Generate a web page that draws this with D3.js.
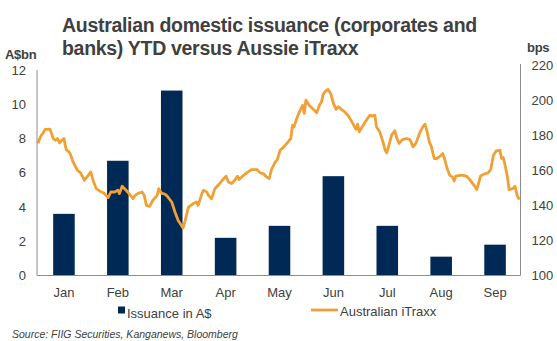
<!DOCTYPE html>
<html><head><meta charset="utf-8">
<script src="https://cdn.jsdelivr.net/npm/d3@7"></script>
<style>
html,body{margin:0;padding:0;background:#fff;}
svg{display:block;font-family:"Liberation Sans",Arial,sans-serif;}
</style></head>
<body>
<svg id="chart" width="557" height="341"></svg>
<script>
// ---- data ----
const months = ["Jan","Feb","Mar","Apr","May","Jun","Jul","Aug","Sep"];
const issuance = [3.6, 6.7, 10.8, 2.2, 2.9, 5.8, 2.9, 1.1, 1.8];
// iTraxx: time in months since 1 Jan (fractional), spread in bps
const itraxxT = [0.02,0.05,0.08,0.11,0.15,0.24,0.27,0.30,0.34,0.38,0.42,0.46,0.50,0.54,0.61,0.67,0.75,0.81,0.88,0.95,
1.00,1.04,1.10,1.16,1.24,1.32,1.37,1.44,1.50,1.53,1.58,1.64,1.70,1.78,1.82,1.89,1.95,1.99,
2.03,2.09,2.15,2.23,2.26,2.31,2.38,2.43,2.50,2.56,2.62,2.67,2.71,2.75,2.81,2.90,2.96,2.99,
3.06,3.09,3.15,3.18,3.24,3.30,3.36,3.45,3.51,3.55,3.61,3.67,3.72,3.75,3.80,3.89,3.98,
4.08,4.14,4.20,4.26,4.31,4.35,4.42,4.46,4.51,4.58,4.66,4.71,4.74,4.77,4.81,4.87,4.93,4.96,4.99,
5.05,5.13,5.19,5.24,5.28,5.31,5.36,5.40,5.45,5.50,5.55,5.59,5.65,5.71,5.78,5.86,5.92,5.95,5.98,
6.04,6.12,6.18,6.23,6.27,6.30,6.36,6.42,6.46,6.49,6.54,6.58,6.64,6.68,6.72,6.78,6.86,6.92,6.98,
7.03,7.11,7.16,7.20,7.24,7.28,7.32,7.37,7.42,7.48,7.53,7.57,7.61,7.66,7.71,7.74,7.77,7.85,7.91,7.97,
8.03,8.11,8.16,8.19,8.23,8.28,8.37,8.42,8.47,8.52,8.59,8.62,8.65,8.68,8.73,8.76,8.83,8.87,8.91,8.95];
const itraxxV = [175.3,178.1,180.0,181.0,183.3,183.4,181.0,178.1,177.1,178.1,175.6,177.1,178.1,171.8,169.9,164.7,160.0,158.5,154.3,157.1,
159.0,154.3,149.5,148.2,147.0,144.4,147.6,147.6,148.6,146.7,150.9,149.0,147.0,143.8,145.7,147.0,147.6,145.7,
140.0,139.4,142.9,145.7,149.5,147.0,146.3,144.7,141.9,136.2,131.4,129.1,127.0,131.4,139.0,141.0,141.9,140.0,
146.7,148.6,147.6,145.7,143.8,149.5,151.4,154.7,156.6,153.3,152.4,154.3,156.6,154.7,156.2,158.5,160.4,
160.4,158.5,158.1,156.2,155.3,160.4,164.6,166.1,171.4,173.3,176.2,178.1,185.7,184.7,188.6,193.3,197.1,192.4,200.0,
197.1,194.7,192.7,197.1,199.0,203.4,205.3,206.1,203.8,198.1,194.7,196.2,194.7,193.3,190.9,186.7,183.3,186.3,181.9,
185.1,189.0,191.4,190.9,191.4,184.7,181.9,176.2,171.4,169.9,175.3,180.0,182.5,178.1,175.3,177.5,178.1,177.5,173.3,
175.3,181.9,184.7,186.3,181.9,176.2,173.3,166.7,166.7,168.0,169.5,165.7,161.0,157.1,156.2,153.9,156.6,157.1,157.1,156.6,
154.7,151.4,149.0,152.0,156.6,157.7,158.5,160.4,168.6,171.0,171.4,166.7,167.3,163.8,156.2,149.0,149.5,150.9,145.7,143.3];
const leftTicks = [0,2,4,6,8,10,12];
const rightTicks = [100,120,140,160,180,200,220];
const titleLines = ["Australian domestic issuance (corporates and","banks) YTD versus Aussie iTraxx"];
const seriesNames = ["Issuance in A$","Australian iTraxx"];
const sourceText = "Source: FIIG Securities, Kanganews, Bloomberg";

// ---- layout ----
const L = 37, R = 520.5, T = 70, B = 275.5;
const textCol = "#404040", axisCol = "#8c8c8c", barCol = "#002a55", lineCol = "#f0a035";

const svg = d3.select("#chart");

const x = d3.scaleBand().domain(months).range([L, 522]).padding(0);
const xt = d3.scaleLinear().domain([0, months.length]).range([L, 522]);
const yL = d3.scaleLinear().domain([0, 12]).range([B, T]);
const yR = d3.scaleLinear().domain([100, 220]).range([B, 65]);

// title
svg.append("g").selectAll("text").data(titleLines).join("text")
  .attr("x", 62).attr("y", (d,i)=>32 + i*23)
  .attr("font-size", 19.5).attr("font-weight", "bold").attr("fill", textCol)
  .attr("letter-spacing", -0.3)
  .text(d=>d);

// axis unit labels
svg.append("text").attr("x", 5).attr("y", 59).attr("font-size", 13).attr("font-weight","bold")
  .attr("fill", textCol).attr("letter-spacing", -0.3).text("A$bn");
svg.append("text").attr("x", 527).attr("y", 52).attr("font-size", 13).attr("font-weight","bold")
  .attr("fill", textCol).attr("letter-spacing", -0.3).text("bps");

// bars
const bw = x.step() * 0.4;
svg.append("g").selectAll("rect").data(issuance).join("rect")
  .attr("x", (d,i)=>x(months[i]) + x.bandwidth()/2 - bw/2)
  .attr("width", bw)
  .attr("y", d=>yL(d))
  .attr("height", d=>yL(0)-yL(d))
  .attr("fill", barCol);

// line
const pts = itraxxT.map((t,i)=>[t, itraxxV[i]]);
svg.append("path").datum(pts)
  .attr("fill","none").attr("stroke", lineCol).attr("stroke-width", 2.8)
  .attr("stroke-linejoin","round")
  .attr("d", d3.line().x(d=>xt(d[0])).y(d=>yR(d[1])));

// left axis
const gL = svg.append("g").attr("transform", `translate(${L},0)`)
  .call(d3.axisLeft(yL).tickValues(leftTicks).tickSize(0).tickPadding(11).tickFormat(d3.format("d")));
gL.select(".domain").attr("stroke", axisCol).attr("d", `M0,${B}V${T}`);
gL.selectAll("text").attr("font-size", 13).attr("fill", textCol).attr("font-family", "Liberation Sans, Arial, sans-serif");

// right axis
const gR = svg.append("g").attr("transform", `translate(${R},0)`)
  .call(d3.axisRight(yR).tickValues(rightTicks).tickSize(0).tickPadding(11).tickFormat(d3.format("d")));
gR.select(".domain").attr("stroke", axisCol).attr("d", `M0,${B}V64`);
gR.selectAll("text").attr("font-size", 13).attr("fill", textCol).attr("font-family", "Liberation Sans, Arial, sans-serif");

// bottom axis
const gB = svg.append("g").attr("transform", `translate(0,${B})`)
  .call(d3.axisBottom(x).tickSize(0).tickPadding(12));
gB.select(".domain").attr("stroke", axisCol).attr("d", `M${L},0H${R}`);
gB.selectAll("text").attr("font-size", 13).attr("fill", textCol).attr("font-family", "Liberation Sans, Arial, sans-serif");

// legend
const lg = svg.append("g");
lg.append("rect").attr("x", 118).attr("y", 306.5).attr("width", 7).attr("height", 7).attr("fill", barCol);
lg.append("text").attr("x", 127).attr("y", 318).attr("font-size", 13).attr("fill", textCol).text(seriesNames[0]);
lg.append("line").attr("x1", 311).attr("x2", 338).attr("y1", 310).attr("y2", 310)
  .attr("stroke", lineCol).attr("stroke-width", 2.8);
lg.append("text").attr("x", 340).attr("y", 316).attr("font-size", 13).attr("fill", textCol).text(seriesNames[1]);

// source
svg.append("text").attr("x", 12).attr("y", 338).attr("font-size", 10.5).attr("font-style","italic")
  .attr("fill", textCol).text(sourceText);
</script>
</body></html>
